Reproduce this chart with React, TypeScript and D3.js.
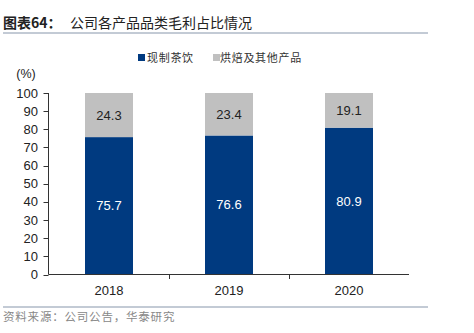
import React from "react";
import * as d3 from "d3";

const categories = ["2018", "2019", "2020"];
const teaValues = [75.7, 76.6, 80.9];
const bakeryValues = [24.3, 23.4, 19.1];
const seriesNames = ["现制茶饮", "烘焙及其他产品"];
const yTicks = [0, 10, 20, 30, 40, 50, 60, 70, 80, 90, 100];

const W = 474, H = 333;
const NAVY = "#003a80";
const GREY = "#c0c0c0";
const FONT = "Liberation Sans, Arial, sans-serif";
const CJK = "Noto Sans CJK SC, sans-serif";

export default function App() {
  const x = d3.scaleBand<string>().domain(categories).range([49, 409]).paddingInner(0.6).paddingOuter(0.3);
  const xTick = d3.scaleBand<string>().domain(categories).range([49, 409]);
  const y = d3.scaleLinear().domain([0, 100]).range([274.5, 93]);
  const left = 48.5;
  return (
    <svg width={W} height={H} style={{ position: "absolute", left: 0, top: 0, background: "#fff" }}>
      <text x={3} y={27.5} fontFamily={CJK} fontSize={14} fontWeight={700} fill="#222">图表64：</text>
      <text x={70} y={27.5} fontFamily={CJK} fontSize={14} fill="#222">公司各产品品类毛利占比情况</text>
      <line x1={3} x2={428} y1={33} y2={33} stroke="#8796ab" strokeWidth={1} />

      {/* legend */}
      <rect x={138} y={54} width={7} height={7} fill={NAVY} />
      <text x={147} y={61.5} fontFamily={CJK} fontSize={11} letterSpacing={0.7} fill="#333">{seriesNames[0]}</text>
      <rect x={213} y={54} width={7} height={7} fill={GREY} />
      <text x={220} y={61.5} fontFamily={CJK} fontSize={11} letterSpacing={0.7} fill="#333">{seriesNames[1]}</text>

      <text x={26} y={78} textAnchor="middle" fontFamily={FONT} fontSize={12.5} fill="#222">(%)</text>

      {/* y axis */}
      <line x1={left} x2={left} y1={y(100)} y2={y(0)} stroke="#333" />
      {yTicks.map(t => (
        <g key={t}>
          <line x1={left - 5} x2={left} y1={Math.round(y(t)) + 0.5} y2={Math.round(y(t)) + 0.5} stroke="#333" />
          <text x={38} y={y(t) + 4.5} textAnchor="end" fontFamily={FONT} fontSize={13} fill="#222">{t}</text>
        </g>
      ))}

      {/* bars */}
      {categories.map((c, i) => {
        const bx = x(c)!;
        const bw = x.bandwidth();
        const t = teaValues[i], b = bakeryValues[i];
        return (
          <g key={c}>
            <rect x={bx} y={y(t)} width={bw} height={y(0) - y(t)} fill={NAVY} />
            <rect x={bx} y={y(t + b)} width={bw} height={y(t) - y(t + b)} fill={GREY} />
            <text x={bx + bw / 2} y={(y(0) + y(t)) / 2 + 4.5} textAnchor="middle" fontFamily={FONT} fontSize={13} fill="#fff">{t.toFixed(1)}</text>
            <text x={bx + bw / 2} y={(y(t) + y(t + b)) / 2 + 4.5} textAnchor="middle" fontFamily={FONT} fontSize={13} fill="#222">{b.toFixed(1)}</text>
          </g>
        );
      })}

      {/* x axis */}
      <line x1={left} x2={409} y1={274.5} y2={274.5} stroke="#333" />
      {categories.map((c, i) => (
        <g key={c}>
          {i > 0 && <line x1={xTick(c)! + 0.5} x2={xTick(c)! + 0.5} y1={274.5} y2={279} stroke="#333" />}
          <text x={xTick(c)! + xTick.bandwidth() / 2} y={295} textAnchor="middle" fontFamily={FONT} fontSize={13} fill="#222">{c}</text>
        </g>
      ))}

      <line x1={3} x2={428} y1={307} y2={307} stroke="#8796ab" strokeWidth={1} />
      <text x={3} y={321} fontFamily={CJK} fontSize={11.5} letterSpacing={0.8} fill="#888">资料来源：公司公告，华泰研究</text>
    </svg>
  );
}
